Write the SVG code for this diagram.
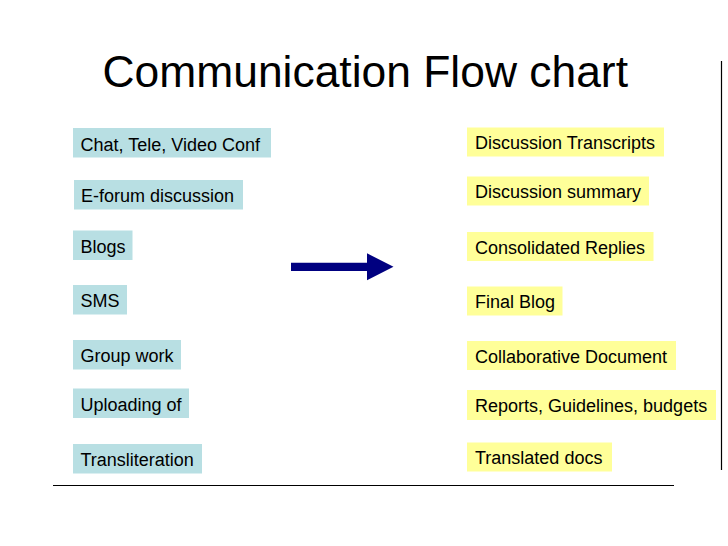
<svg xmlns="http://www.w3.org/2000/svg" width="728" height="546" viewBox="0 0 728 546">
<style>
.t{font-family:"Liberation Sans",Arial,sans-serif;font-size:18px;fill:#000}
.src{fill:#b8dfe3}
.dst{fill:#ffff99}
.title{font-family:"Liberation Sans",Arial,sans-serif;font-size:44.4px;fill:#000}
</style>
<rect x="0" y="0" width="728" height="546" fill="#fff"/>
<text class="title" x="102.5" y="86.5">Communication Flow chart</text>
<line x1="721.5" y1="61" x2="721.5" y2="470" stroke="#000" stroke-width="1.2"/>
<line x1="53" y1="485.5" x2="674" y2="485.5" stroke="#000" stroke-width="1.2"/>
<g id="src1"><rect class="src" x="73" y="128" width="198" height="29.5"/><text class="t" x="80.5" y="150.5">Chat, Tele, Video Conf</text></g>
<g id="src2"><rect class="src" x="74" y="180" width="169" height="29.5"/><text class="t" x="81" y="202">E-forum discussion</text></g>
<g id="src3"><rect class="src" x="73" y="230.5" width="59.5" height="29.5"/><text class="t" x="80.5" y="252.5">Blogs</text></g>
<g id="src4"><rect class="src" x="73" y="285" width="54" height="29.5"/><text class="t" x="80.5" y="307">SMS</text></g>
<g id="src5"><rect class="src" x="73" y="340" width="108" height="29.5"/><text class="t" x="80.5" y="362">Group work</text></g>
<g id="src6"><rect class="src" x="73" y="388.5" width="116" height="29.5"/><text class="t" x="80.5" y="410.5">Uploading of</text></g>
<g id="src7"><rect class="src" x="73" y="444" width="129" height="29.5"/><text class="t" x="80.5" y="466">Transliteration</text></g>
<g id="dst1"><rect class="dst" x="467" y="127.5" width="197" height="29"/><text class="t" x="475" y="149">Discussion Transcripts</text></g>
<g id="dst2"><rect class="dst" x="467" y="176.5" width="182" height="29"/><text class="t" x="475" y="198">Discussion summary</text></g>
<g id="dst3"><rect class="dst" x="467" y="232" width="186.5" height="29"/><text class="t" x="475" y="254">Consolidated Replies</text></g>
<g id="dst4"><rect class="dst" x="467" y="286.5" width="95.5" height="29"/><text class="t" x="475" y="308">Final Blog</text></g>
<g id="dst5"><rect class="dst" x="467" y="341" width="209" height="29"/><text class="t" x="475" y="363">Collaborative Document</text></g>
<g id="dst6"><rect class="dst" x="467" y="390" width="249" height="30"/><text class="t" x="475" y="412">Reports, Guidelines, budgets</text></g>
<g id="dst7"><rect class="dst" x="467" y="442.5" width="145" height="29"/><text class="t" x="475" y="464">Translated docs</text></g>
<g id="connectors">
<polygon points="291,262.7 367,262.7 367,253.3 393.5,266.8 367,280.3 367,271 291,271" fill="#000080"/>
</g>
</svg>
